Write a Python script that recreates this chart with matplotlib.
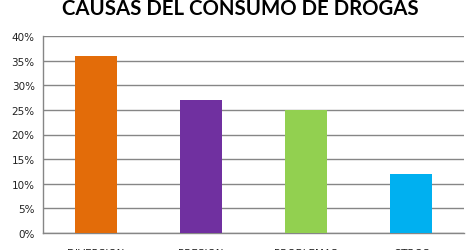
import matplotlib.pyplot as plt

causas = ['DIVERSION', 'PRESION', 'PROBLEMAS', 'OTROS']
porcentajes = [36, 27, 25, 12]
colores = ['#E36C09', '#7030A0', '#92D050', '#00B0F0']
ticks_y = [0, 5, 10, 15, 20, 25, 30, 35, 40]

fig = plt.figure(figsize=(4.77, 2.51), dpi=100)
ax = fig.add_axes([43 / 477, 1 - 234 / 251, 421 / 477, 197 / 251])

ax.bar(range(len(causas)), porcentajes, width=0.4, color=colores, zorder=3)
ax.set_xlim(-0.5, len(causas) - 0.5)
ax.set_ylim(0, 40)
ax.set_yticks(ticks_y)
ax.set_yticklabels([f'{t}%' for t in ticks_y], fontsize=7.5, color='#222222')
ax.set_xticks(range(len(causas)))
ax.set_xticklabels(causas, fontsize=7.5, color='#222222')
ax.tick_params(axis='both', length=0)
ax.tick_params(axis='x', pad=11)
ax.tick_params(axis='y', pad=6)
ax.yaxis.grid(True, color='#868686', linewidth=1, zorder=0)
for s in ['top', 'right']:
    ax.spines[s].set_visible(False)
for s in ['left', 'bottom']:
    ax.spines[s].set_color('#868686')
    ax.spines[s].set_linewidth(1)

fig.text(0.503, 1 - 15 / 251, 'CAUSAS DEL CONSUMO DE DROGAS', ha='center', va='baseline',
         fontsize=14.7, fontweight='bold', family='Lato', color='black')

fig.savefig('out.png', dpi=100)
